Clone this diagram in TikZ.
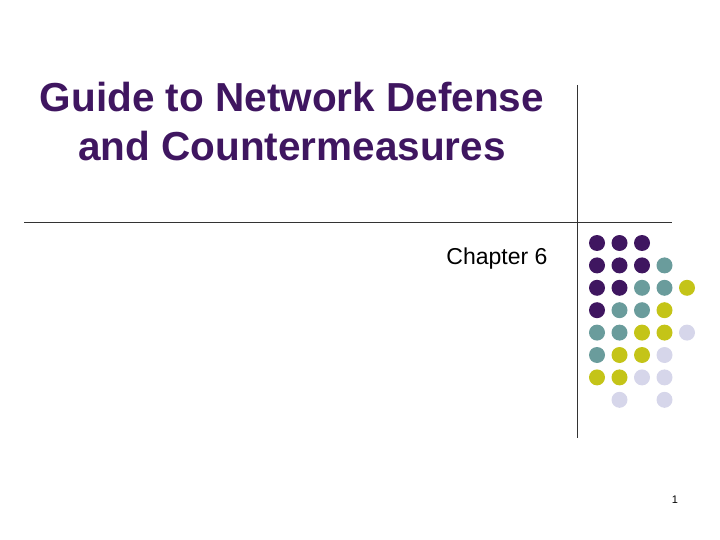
\documentclass[tikz,border=0pt]{standalone}
\usepackage{fontspec}
\setmainfont{Liberation Sans}
\definecolor{dpur}{HTML}{3F1660}
\definecolor{dteal}{HTML}{6A9C9C}
\definecolor{dyel}{HTML}{C4C418}
\definecolor{dlav}{HTML}{D6D6EA}
\begin{document}
\begin{tikzpicture}[x=1pt,y=-1pt,
  dot/.style={circle,inner sep=0pt,minimum size=16pt},
  rule/.style={draw=black!80,line width=0.8pt}]
\useasboundingbox (0,0) rectangle (720,540);
\node[text=dpur,font=\bfseries\fontsize{40.5}{49}\selectfont,align=center] (title) at (292,122) {Guide to Network Defense\\and Countermeasures};
\node[anchor=east,font=\fontsize{23}{27}\selectfont] (chap) at (551,259) {Chapter 6};
\node[font=\fontsize{11}{13}\selectfont] (pg) at (675,500) {1};
\coordinate (h1) at (24,222); \coordinate (h2) at (672,222);
\coordinate (v1) at (577,85); \coordinate (v2) at (577,438);
\draw[rule] (h1) -- (h2);
\draw[rule] (v1) -- (v2);
\foreach \c/\r/\col in {
 0/0/dpur,1/0/dpur,2/0/dpur,
 0/1/dpur,1/1/dpur,2/1/dpur,3/1/dteal,
 0/2/dpur,1/2/dpur,2/2/dteal,3/2/dteal,4/2/dyel,
 0/3/dpur,1/3/dteal,2/3/dteal,3/3/dyel,
 0/4/dteal,1/4/dteal,2/4/dyel,3/4/dyel,4/4/dlav,
 0/5/dteal,1/5/dyel,2/5/dyel,3/5/dlav,
 0/6/dyel,1/6/dyel,2/6/dlav,3/6/dlav,
 1/7/dlav,3/7/dlav}
 \node[dot,fill=\col] (d\c\r) at (597+22.5*\c,243+22.4*\r) {};
\end{tikzpicture}
\end{document}
